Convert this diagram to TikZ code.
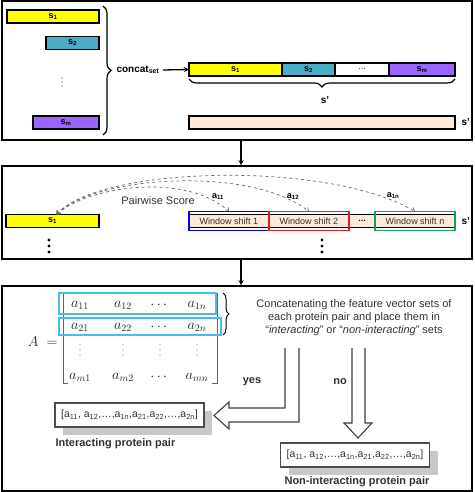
\documentclass[tikz,border=0pt]{standalone}
\usepackage{amsmath}
\usepackage[no-math]{fontspec}
\setmainfont{Liberation Sans}
\usepackage{xcolor}
\usepackage{tikz}
\usetikzlibrary{positioning, arrows, arrows.meta, decorations.pathreplacing, shadows}
\definecolor{seqyellow}{RGB}{255,255,0}
\definecolor{seqteal}{RGB}{75,172,198}
\definecolor{seqpurple}{RGB}{153,102,255}
\definecolor{peach}{RGB}{253,234,218}
\definecolor{winblue}{RGB}{0,0,230}
\definecolor{winred}{RGB}{230,30,30}
\definecolor{wingreen}{RGB}{20,160,80}
\definecolor{rowcyan}{RGB}{70,190,230}
\definecolor{txtgray}{RGB}{50,50,50}
\definecolor{shadowgray}{RGB}{200,200,200}
\tikzstyle{panel} = [rectangle, draw=black, line width=1.5pt, minimum width=470pt, inner sep=0pt]
\tikzstyle{seq} = [rectangle, draw=black, line width=1.2pt, minimum height=13pt, inner sep=0pt, outer sep=0pt, font=\bfseries\small]
\tikzstyle{window} = [rectangle, line width=1.5pt, minimum width=80pt, minimum height=19pt, inner sep=0pt, outer sep=0pt, font=\small, text=txtgray]
\tikzstyle{tag} = [font=\bfseries\normalsize]
\tikzstyle{arrow} = [line width=1.3pt,->,>=stealth]
\tikzstyle{score} = [dashed, gray!80!black, line width=0.7pt, {Straight Barb[length=3pt,width=5pt]}-{Straight Barb[length=3pt,width=5pt]}]
\tikzstyle{brace} = [decorate, decoration={brace, amplitude=8pt}, line width=1.2pt]
\tikzstyle{entry} = [font=\fontsize{14}{16}\selectfont, text=black!85]
\tikzstyle{vecbox} = [rectangle, draw=black!70, line width=1.5pt, fill=white, minimum width=149pt, minimum height=24pt, inner sep=2pt, font=\fontsize{10.5}{12}\selectfont, text=txtgray, drop shadow={shadow xshift=8pt, shadow yshift=-8pt, fill=shadowgray, opacity=1}]
\tikzstyle{hollow} = [draw=black!75, line width=1.1pt, fill=white]
\tikzstyle{caption} = [font=\bfseries\fontsize{11}{13}\selectfont, text=txtgray]

\begin{document}
\begin{tikzpicture}[x=1pt, y=-1pt]
   \useasboundingbox (0,0) rectangle (474,492);
   % panels
   \node (p1) [panel, minimum height=139pt] at (237,70.5) {};
   \node (p2) [panel, minimum height=93pt] at (237,212.5) {};
   \node (p3) [panel, minimum height=205pt] at (237,388.5) {};
   \draw [arrow] ([xshift=4pt]p1.south) -- ([xshift=4pt]p2.north);
   \draw [arrow] ([xshift=4pt]p2.south) -- ([xshift=4pt]p3.north);

   % panel 1: sequence set
   \node (s1) [seq, fill=seqyellow, minimum width=92pt, anchor=east] at (99,16.5) {s\textsubscript{1}};
   \node (s2) [seq, fill=seqteal, minimum width=53pt, anchor=east] at (99,43) {s\textsubscript{2}};
   \foreach \dy in {78,82,86}
      \fill [txtgray] (62,\dy) circle (0.6pt);
   \node (sm) [seq, fill=seqpurple, minimum width=66pt, anchor=east] at (99,122.5) {s\textsubscript{m}};
   \draw [brace] (103,6) -- (103,135);
   \node (concat) [tag, anchor=west] at (113,70) {concat\textsubscript{set}};
   \node (cs1) [seq, fill=seqyellow, minimum width=93pt, anchor=west] at (189,69.5) {s\textsubscript{1}};
   \node (cs2) [seq, fill=seqteal, minimum width=53pt, right=0pt of cs1] {s\textsubscript{2}};
   \node (cdots) [seq, fill=white, minimum width=54pt, right=0pt of cs2, font=\footnotesize] {\ldots};
   \node (csm) [seq, fill=seqpurple, minimum width=66pt, right=0pt of cdots] {s\textsubscript{m}};
   \draw [arrow] (concat.east) -- (cs1.west);
   \draw [brace] (455,79) -- (189,79);
   \node (spr1) [tag] at (325,100) {s'};
   \node (sprime) [seq, fill=peach, minimum width=266pt, anchor=west] at (189,122.5) {};
   \node (spr2) [tag, right=3pt of sprime] {s'};

   % panel 2: window shifts
   \node (ps1) [seq, fill=seqyellow, minimum width=93pt, anchor=west] at (6,221) {s\textsubscript{1}};
   \node (wbar) [seq, fill=peach, minimum width=266pt, anchor=west] at (189,221) {};
   \node (w1) [window, draw=winblue, anchor=west] at (189,221) {Window shift 1};
   \node (w2) [window, draw=winred, right=0pt of w1] {Window shift 2};
   \node (wn) [window, draw=wingreen, anchor=east] at (455,221) {Window shift n};
   \node (wdots) [font=\bfseries\footnotesize] at (362,221) {\ldots};
   \node (spr3) [tag, right=3pt of wbar] {s'};
   \foreach \dx in {49,322}
      \foreach \dy in {240,246,252}
         \fill (\dx,\dy) circle (1.6pt);
   \draw [score] ([xshift=4pt]ps1.north) .. controls +(33,-29) and +(-43,-39) .. (w1.north);
   \draw [score] ([xshift=4pt]ps1.north) .. controls +(38,-39) and +(-58,-46) .. (w2.north);
   \draw [score] ([xshift=4pt]ps1.north) .. controls +(43,-49) and +(-85,-51) .. (wn.north);
   \node (pscore) [text=txtgray, font=\fontsize{11}{13}\selectfont] at (158,201) {Pairwise Score};
   \node (a11) [font=\bfseries\small] at (218,197) {a\textsubscript{11}};
   \node (a12) [font=\bfseries\small] at (293,197) {a\textsubscript{12}};
   \node (a1n) [font=\bfseries\small] at (393,196) {a\textsubscript{1n}};

   % panel 3: feature matrix
   \node (A) [entry, anchor=east] at (61,342) {$A\;=$};
   \foreach \r/\ry in {1/305,2/327,m/377} {
      \node (a\r1) [entry] at (80,\ry) {$a_{\r1}$};
      \node (a\r2) [entry] at (123,\ry) {$a_{\r2}$};
      \node (a\r3) [entry] at (160,\ry) {$\cdots$};
      \node (a\r n) [entry] at (197,\ry) {$a_{\r n}$};
   }
   \foreach \cx in {80,123,160,197}
      \foreach \dy in {345,350,355}
         \fill [gray] (\cx,\dy) circle (0.6pt);
   \draw [gray!80!black, line width=0.8pt] (68,293) -- (63,293) -- (63,383) -- (68,383);
   \draw [gray!80!black, line width=0.8pt] (212,293) -- (217,293) -- (217,383) -- (212,383);
   \draw [rowcyan, line width=1.3pt] (59,293) rectangle (216,314);
   \draw [rowcyan, line width=1.3pt] (59,318) rectangle (221,335);
   \draw [decorate, decoration={brace, amplitude=6pt}, line width=1pt] (223,293) -- (223,335);
   \node (concattxt) [font=\fontsize{11}{13}\selectfont, text=txtgray, align=center] at (354,318) {Concatenating the feature vector sets of\\ each protein pair and place them in\\ “\textit{interacting}” or “\textit{non-interacting}” sets};

   % yes / no
   \path [hollow] (285,348) -- (285,408) -- (229,408) -- (229,402) -- (214,415.5) -- (229,429) -- (229,422) -- (299,422) -- (299,348);
   \path [hollow] (352,348) -- (352,423) -- (344,423) -- (358,438) -- (372,423) -- (365,423) -- (365,348);
   \node (yes) [caption] at (252,382) {yes};
   \node (no) [caption] at (340,382) {no};
   \node (ipair) [vecbox] at (129.5,415) {[a\textsubscript{11}, a\textsubscript{12},\ldots,a\textsubscript{1n},a\textsubscript{21},a\textsubscript{22},\ldots,a\textsubscript{2n}]};
   \node (ilabel) [caption, anchor=west] at (52,444) {Interacting protein pair};
   \node (npair) [vecbox] at (355,455) {[a\textsubscript{11}, a\textsubscript{12},\ldots,a\textsubscript{1n},a\textsubscript{21},a\textsubscript{22},\ldots,a\textsubscript{2n}]};
   \node (nlabel) [caption] at (357,482) {Non-interacting protein pair};
\end{tikzpicture}
\end{document}
